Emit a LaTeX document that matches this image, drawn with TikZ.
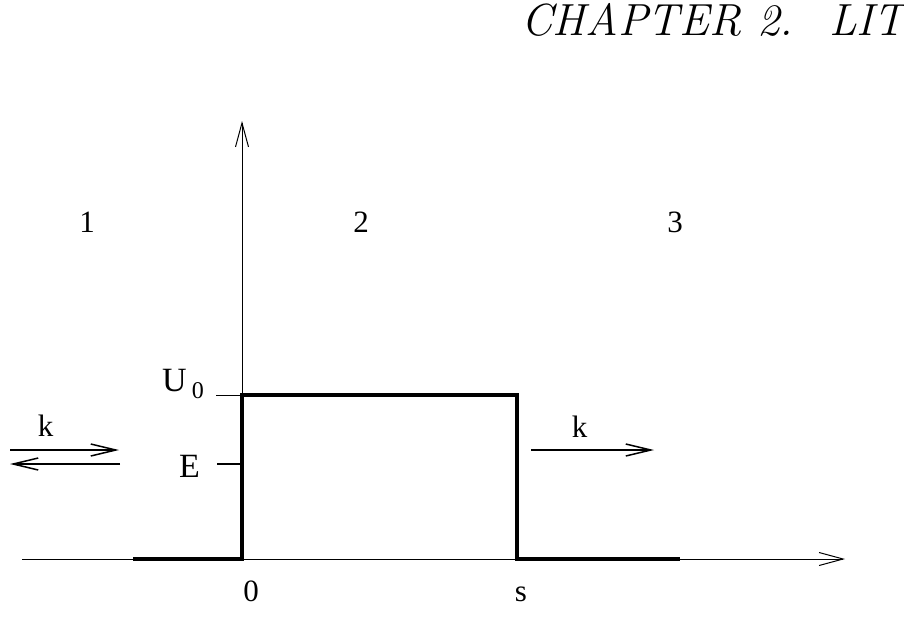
\documentclass[tikz,border=0pt]{standalone}
\usepackage{fontspec}
\newfontfamily\tms{Liberation Serif}
\usetikzlibrary{arrows.meta}
\begin{document}
\begin{tikzpicture}[x=1pt,y=-1pt,
  thinline/.style={line width=1pt},
  thickline/.style={line width=3.2pt,line join=miter},
  openarrow/.style={-{Straight Barb[length=24pt,width=13pt,line width=1pt]}},
  karrow/.style={line width=2pt,-{Straight Barb[length=25pt,width=12pt,line width=1.5pt]}},
  lbl/.style={font=\tms\fontsize{31}{31}\selectfont, inner sep=0pt, anchor=base},
  biglbl/.style={font=\tms\fontsize{34}{34}\selectfont, inner sep=0pt}]
\useasboundingbox (0,0) rectangle (904,630);
% header
\node[font=\itshape\fontsize{45}{45}\selectfont, anchor=base west, inner sep=0pt] (hdr) at (521,35) {CHAPTER 2.\hspace{0.8em}LIT};
% axes
\coordinate (xl) at (22,559);
\coordinate (xr) at (845,559);
\coordinate (yb) at (242,559);
\coordinate (yt) at (242,121);
\draw[thinline,openarrow] (xl) -- (xr);
\draw[thinline,openarrow] (yb) -- (yt);
% barrier
\coordinate (gl) at (133,559);
\coordinate (bul) at (242,395);
\coordinate (bur) at (517,395);
\coordinate (b1) at (517,559);
\coordinate (gr) at (680,559);
\draw[thickline] (gl) -- (yb) -- (bul) -- (bur) -- (b1) -- (gr);
% ticks
\coordinate (ut) at (216,395);
\coordinate (et) at (217,464);
\coordinate (ea) at (242,464);
\draw[thinline] (ut) -- (bul);
\draw[line width=2pt] (et) -- (ea);
% k arrows
\coordinate (la1) at (10,450);
\coordinate (la2) at (119,450);
\coordinate (lb1) at (120,464);
\coordinate (lb2) at (10,464);
\coordinate (ra1) at (531,450);
\coordinate (ra2) at (654,450);
\draw[karrow] (la1) -- (la2);
\draw[karrow] (lb1) -- (lb2);
\draw[karrow] (ra1) -- (ra2);
% labels
\node[lbl] (r1) at (87,232) {1};
\node[lbl] (r2) at (361,232) {2};
\node[lbl] (r3) at (675,232) {3};
\node[lbl] (z0) at (251,601) {0};
\node[lbl] (zs) at (521,601) {s};
\node[lbl] (kl) at (45.5,436) {k};
\node[lbl] (kr) at (579.5,437) {k};
\node[biglbl,anchor=base east] (le) at (200,477) {E};
\node[biglbl,anchor=base west] (lu) at (162,391) {U\hspace{5pt}\raisebox{-7pt}{\fontsize{24}{24}\selectfont 0}};
\end{tikzpicture}
\end{document}
